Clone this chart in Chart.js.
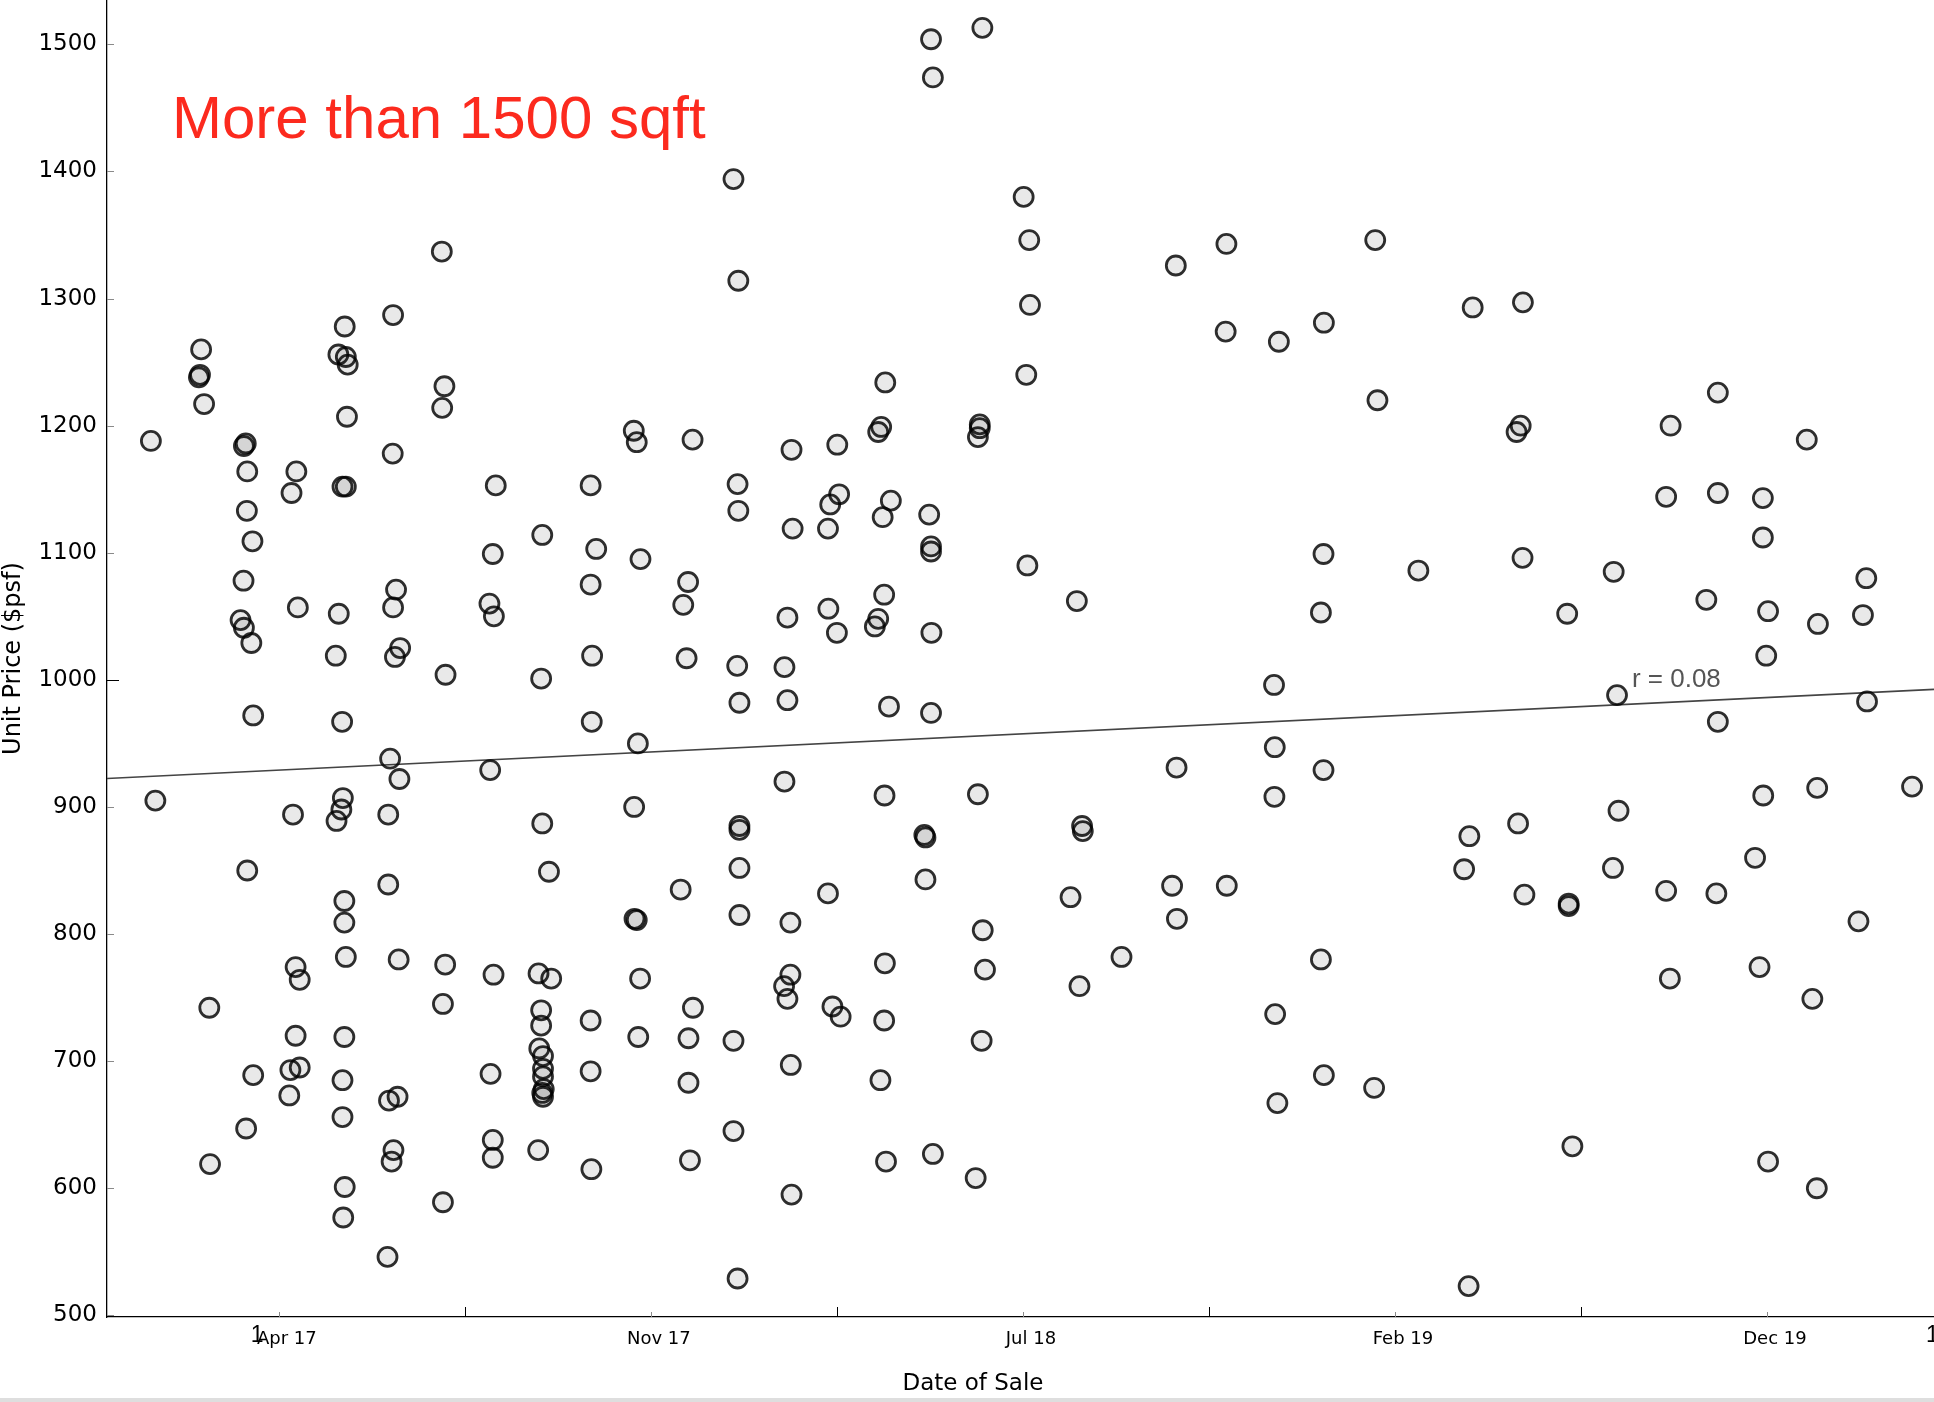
<!DOCTYPE html>
<html>
<head>
<meta charset="utf-8">
<title>Unit price vs date of sale</title>
<script src="https://cdn.jsdelivr.net/npm/chart.js@4.4.1/dist/chart.umd.min.js"></script>
<style>
  html, body { margin: 0; padding: 0; background: #dedede; }
  #wrap { width: 1934px; height: 1398px; background: #fff; }
</style>
</head>
<body>
<div id="wrap"><canvas id="chart-area" width="1934" height="1398"></canvas></div>
<script>
(function () {
  'use strict';

  // x is the position on the date axis: 0 = "Apr 17" tick, 1 = "Nov 17" tick, ...
  var tickPos = [0, 1, 2, 3, 4];
  var tickLabels = ['Apr 17', 'Nov 17', 'Jul 18', 'Feb 19', 'Dec 19'];
  var xRange = [-0.462, 4.449];
  var yRange = [498.7, 1534.9];
  var yMarkedTick = 1000;

  var saleX = [
    1.222, 1.235, 0.438, 0.307, 0.177, -0.209, -0.215, -0.212, -0.201, 0.160, 0.180, 0.185,
    0.445, 0.439, 0.183, -0.344, -0.089, -0.094, -0.085, 0.047, 0.034, 0.171, 0.180, 0.306,
    0.954, 0.962, 1.112, 0.583, 0.838, 1.233, 1.235, -0.086, -0.071, 0.708, 0.575, 0.853,
    0.972, -0.095, 0.315, 0.307, 0.838, 1.100, 1.087, 0.051, 0.161, -0.103, -0.094, -0.074,
    0.566, 0.578, 0.153, 0.326, 0.312, 0.842, 1.096, 1.232,
    0.448, 0.705, 1.238, -0.069, 0.170, 0.841, 0.965, 0.299, 0.324, 0.568, -0.332, 0.038,
    0.172, 0.168, 0.155, 0.294, 0.708, 0.955, 1.238, 1.238, -0.085, 0.294, 0.726, 1.080,
    1.238, 0.176, 0.176, 0.956, 0.962, 1.238, 0.180, 0.322, 0.447, 0.045, 0.056, 0.577,
    0.698, 0.732, 0.971, -0.187, 0.441, 0.705, 0.705, 0.838, 1.113, 0.045, 0.176, 0.966,
    1.101, 1.222, -0.069, 0.031, 0.056, 0.028, 0.171, 0.296, 0.319, 0.569,
    0.700, 0.710, 0.710, 0.710, 0.712, 0.708, 0.710,
    0.838, 1.101, -0.088, -0.185, 0.171, 0.308, 0.303, 0.575, 0.575, 0.697, 0.840, 1.105,
    1.222, 0.177, 0.173, 0.441, 0.292, 1.233,
    1.753, 1.891, 1.758, 2.002, 2.017, 2.019, 2.009, 2.411, 2.547, 2.545, 2.688, 2.809,
    1.630, 1.619, 1.611, 1.884, 1.884, 1.879, 1.378, 1.501, 1.506, 1.482, 1.645, 1.623,
    1.748, 1.753, 1.753, 1.381, 1.476, 2.012, 2.145, 2.808, 2.801, 1.367, 1.477, 1.500,
    1.627, 1.611, 1.602, 1.754, 1.359,
    1.367, 1.640, 1.753, 2.675, 2.677, 2.808, 2.413, 2.676, 1.359, 1.628, 1.879, 1.735,
    1.738, 2.159, 2.161, 1.738, 1.476, 1.375, 1.892, 2.128, 2.401, 2.414, 2.548, 1.629,
    1.898, 2.265, 2.152, 2.801, 1.375, 1.358, 1.367, 1.488, 1.510, 1.627, 1.889, 2.678,
    1.376, 1.617, 2.809, 2.684, 1.632, 1.758, 1.873, 1.378,
    2.947, 3.209, 3.344, 2.953, 3.338, 3.327, 3.741, 3.868, 4.107, 3.729, 3.868, 3.989,
    3.989, 3.063, 3.343, 3.588, 4.267, 3.463, 3.837, 4.003, 4.137, 4.258, 3.998,
    3.597, 4.269, 3.868, 3.990, 4.135, 4.390, 3.601, 3.200, 3.331, 3.186, 3.586, 3.968,
    3.348, 3.467, 3.467, 3.729, 3.864, 4.246, 3.739, 3.980, 4.122, 2.944, 3.477, 4.003,
    4.134, 3.198
  ];

  var unitPrice = [
    1394, 1314, 1337, 1287, 1278, 1260, 1238, 1240, 1217, 1256, 1254, 1248,
    1231, 1214, 1207, 1188, 1186, 1184, 1164, 1164, 1147, 1152, 1152, 1178,
    1196, 1187, 1189, 1153, 1153, 1154, 1133, 1133, 1109, 1114, 1099, 1103,
    1095, 1078, 1071, 1057, 1075, 1077, 1059, 1057, 1052, 1047, 1041, 1029,
    1060, 1050, 1019, 1025, 1018, 1019, 1017, 1011,
    1004, 1001, 982, 972, 967, 967, 950, 938, 922, 929, 905, 894,
    907, 898, 889, 894, 887, 900, 885, 882, 850, 839, 849, 835,
    852, 826, 809, 812, 811, 815, 782, 780, 776, 774, 764, 768,
    769, 765, 765, 742, 745, 740, 728, 732, 742, 720, 719, 719,
    718, 716, 689, 693, 695, 673, 685, 669, 672, 690,
    710, 704, 694, 688, 678, 675, 672,
    692, 683, 647, 619, 656, 630, 621, 638, 624, 630, 615, 622,
    645, 601, 577, 589, 546, 529,
    1504, 1513, 1474, 1380, 1346, 1295, 1240, 1326, 1343, 1274, 1266, 1281,
    1234, 1199, 1195, 1201, 1198, 1191, 1181, 1185, 1146, 1138, 1141, 1128,
    1130, 1105, 1101, 1119, 1119, 1090, 1062, 1099, 1053, 1049, 1056, 1037,
    1067, 1048, 1042, 1037, 1010,
    984, 979, 974, 996, 947, 929, 931, 908, 920, 909, 910, 878,
    876, 885, 881, 843, 832, 809, 803, 829, 838, 812, 838, 777,
    772, 782, 759, 780, 768, 759, 749, 743, 735, 732, 716, 737,
    697, 685, 689, 667, 621, 627, 608, 595,
    1346, 1293, 1297, 1220, 1200, 1195, 1200, 1226, 1189, 1144, 1147, 1143,
    1112, 1086, 1096, 1085, 1080, 1052, 1063, 1054, 1044, 1051, 1019,
    988, 983, 967, 909, 915, 916, 897, 877, 887, 851, 852, 860,
    831, 824, 822, 834, 832, 810, 765, 774, 749, 679, 633, 621,
    600, 523
  ];

  // fitted line as drawn in the picture, and where its label sits
  var trendX = [-0.462, 4.449];
  var trendY = [922.4, 992.5];
  var rLabel = 'r = 0.08';
  var rLabelAt = [3.637, 994];

  var points = saleX.map(function (x, i) { return { x: x, y: unitPrice[i] }; });
  var trend = trendX.map(function (x, i) { return { x: x, y: trendY[i] }; });

  var decor = {
    id: 'decor',
    afterDraw: function (chart) {
      var ctx = chart.ctx, a = chart.chartArea;
      var xs = chart.scales.x, ys = chart.scales.y;
      ctx.save();
      ctx.lineWidth = 1;
      ys.ticks.forEach(function (t) {
        var py = Math.round(ys.getPixelForValue(t.value)) + 0.5;
        var marked = t.value === yMarkedTick;
        ctx.strokeStyle = marked ? '#000' : '#8a8a8a';
        ctx.beginPath();
        ctx.moveTo(a.left, py);
        ctx.lineTo(a.left + (marked ? 12 : 7), py);
        ctx.stroke();
      });
      xs.ticks.forEach(function (t) {
        var px = Math.round(xs.getPixelForValue(t.value)) + 0.5;
        var labelled = tickPos.indexOf(t.value) >= 0;
        ctx.strokeStyle = labelled ? '#8a8a8a' : '#000';
        ctx.beginPath();
        ctx.moveTo(px, a.bottom);
        ctx.lineTo(px, a.bottom - (labelled ? 5 : 10));
        ctx.stroke();
      });

      ctx.fillStyle = '#fc2a1e';
      ctx.font = '60px "Liberation Sans", Arial, sans-serif';
      ctx.textAlign = 'left';
      ctx.textBaseline = 'alphabetic';
      ctx.fillText('More than 1500 sqft', a.left + 65, a.top + 138);

      ctx.fillStyle = '#555';
      ctx.font = '26px "Liberation Sans", Arial, sans-serif';
      ctx.fillText(rLabel, xs.getPixelForValue(rLabelAt[0]), ys.getPixelForValue(rLabelAt[1]));

      ctx.fillStyle = '#000';
      ctx.font = '23px "DejaVu Sans", sans-serif';
      ctx.textAlign = 'center';
      ctx.fillText('Date of Sale', a.left + 866, a.bottom + 73);

      ctx.font = '23px "Liberation Sans", Arial, sans-serif';
      ctx.textAlign = 'left';
      ctx.fillText('1', xs.getPixelForValue(tickPos[0]) - 28, a.bottom + 25);
      ctx.fillText('1', a.right - 8, a.bottom + 25);

      ctx.translate(20, (a.top + a.bottom) / 2);
      ctx.rotate(-Math.PI / 2);
      ctx.textAlign = 'center';
      ctx.font = '24px "DejaVu Sans", sans-serif';
      ctx.fillText('Unit Price ($psf)', 0, 0);
      ctx.restore();
    }
  };

  var ctx = document.getElementById('chart-area').getContext('2d');
  window.priceChart = new Chart(ctx, {
    type: 'scatter',
    data: {
      datasets: [
        {
          data: points,
          pointRadius: 9.5,
          pointHoverRadius: 9.5,
          pointBorderWidth: 2.8,
          pointBorderColor: 'rgba(0,0,0,0.82)',
          pointBackgroundColor: 'rgba(0,0,0,0.085)'
        },
        {
          data: trend,
          showLine: true,
          borderColor: '#444',
          borderWidth: 1.6,
          pointRadius: 0
        }
      ]
    },
    options: {
      responsive: false,
      animation: false,
      devicePixelRatio: 1,
      layout: { padding: 0, autoPadding: false },
      plugins: {
        legend: { display: false },
        tooltip: { enabled: false }
      },
      scales: {
        x: {
          type: 'linear',
          min: xRange[0],
          max: xRange[1],
          afterFit: function (scale) {
            scale.height = 81;
            scale.paddingLeft = 0;
            scale.paddingRight = 0;
          },
          grid: { display: false, drawTicks: false },
          border: { display: true, color: '#000', width: 1.3 },
          ticks: {
            stepSize: 0.5,
            includeBounds: false,
            autoSkip: false,
            maxRotation: 0,
            padding: 12,
            labelOffset: 8,
            color: '#000',
            font: { family: '"DejaVu Sans", sans-serif', size: 18 },
            callback: function (v) {
              var i = tickPos.indexOf(v);
              return i >= 0 ? tickLabels[i] : '';
            }
          }
        },
        y: {
          type: 'linear',
          min: yRange[0],
          max: yRange[1],
          afterFit: function (scale) {
            scale.width = 107;
            scale.paddingTop = 0;
            scale.paddingBottom = 0;
          },
          grid: { display: false, drawTicks: false },
          border: { display: true, color: '#000', width: 1.3 },
          ticks: {
            stepSize: 100,
            includeBounds: false,
            padding: 10,
            color: '#000',
            font: { family: '"DejaVu Sans", sans-serif', size: 23 },
            callback: function (v) { return String(v); }
          }
        }
      }
    },
    plugins: [decor]
  });
})();
</script>
</body>
</html>
